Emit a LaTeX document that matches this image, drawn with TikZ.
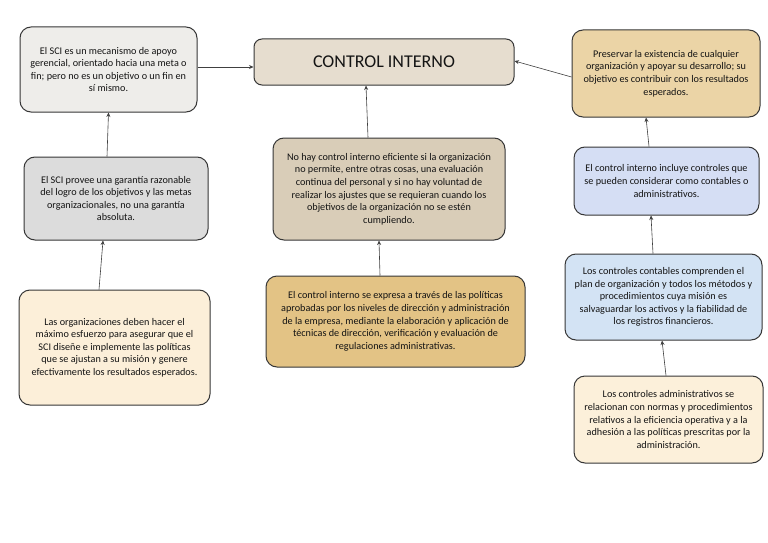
\documentclass[tikz,border=0pt]{standalone}
\usepackage{fontspec}
\setmainfont{Carlito}
\usetikzlibrary{arrows.meta}
\definecolor{cA}{HTML}{EEEDEA}
\definecolor{cB}{HTML}{DCDCDC}
\definecolor{cC}{HTML}{FCEFD9}
\definecolor{cCI}{HTML}{E6DDCF}
\definecolor{cD}{HTML}{D9CDB8}
\definecolor{cE}{HTML}{E3C385}
\definecolor{cF}{HTML}{EBD4A6}
\definecolor{cG}{HTML}{D5DEF4}
\definecolor{cH}{HTML}{D3E3F4}
\definecolor{cI}{HTML}{FCF0DA}
\definecolor{bord}{HTML}{363636}
\definecolor{txt}{HTML}{141414}
\tikzset{
  card/.style={draw=bord, line width=1pt, rounded corners=11pt, align=center,
    inner sep=0pt, text=txt, font=\fontsize{10.2}{12.6}\selectfont},
  arr/.style={draw=black!75, line width=0.6pt, -{Stealth[length=4.5pt,width=4pt]}}
}
\begin{document}
\begin{tikzpicture}[x=1pt,y=-1pt]
\useasboundingbox[fill=white] (0,0) rectangle (768,543);
\node[card, fill=cA, minimum width=177pt, minimum height=85pt] (A) at (108.5,69.5)
  {El SCI es un mecanismo de apoyo\\gerencial, orientado hacia una meta o\\fin; pero no es un objetivo o un fin en\\sí mismo.};
\node[card, fill=cB, minimum width=184pt, minimum height=83pt] (B) at (116,198.5)
  {El SCI provee una garantía razonable\\del logro de los objetivos y las metas\\organizacionales, no una garantía\\absoluta.};
\node[card, fill=cC, minimum width=191pt, minimum height=115pt] (C) at (114.5,347.5)
  {Las organizaciones deben hacer el\\máximo esfuerzo para asegurar que el\\SCI diseñe e implemente las políticas\\que se ajustan a su misión y genere\\efectivamente los resultados esperados.};
\node[card, fill=cCI, rounded corners=8pt, minimum width=260pt, minimum height=46pt,
  font=\fontsize{18}{20}\selectfont] (CI) at (384,62) {CONTROL INTERNO};
\node[card, fill=cD, minimum width=232pt, minimum height=102pt] (D) at (389,189)
  {No hay control interno eficiente si la organización\\no permite, entre otras cosas, una evaluación\\continua del personal y si no hay voluntad de\\realizar los ajustes que se requieran cuando los\\objetivos de la organización no se estén\\cumpliendo.};
\node[card, fill=cE, minimum width=259pt, minimum height=91pt] (E) at (395.5,321.5)
  {El control interno se expresa a través de las políticas\\aprobadas por los niveles de dirección y administración\\de la empresa, mediante la elaboración y aplicación de\\técnicas de dirección, verificación y evaluación de\\regulaciones administrativas.};
\node[card, fill=cF, minimum width=188pt, minimum height=87pt] (F) at (666,73.5)
  {Preservar la existencia de cualquier\\organización y apoyar su desarrollo; su\\objetivo es contribuir con los resultados\\esperados.};
\node[card, fill=cG, minimum width=185pt, minimum height=68pt] (G) at (666.5,181)
  {El control interno incluye controles que\\se pueden considerar como contables o\\administrativos.};
\node[card, fill=cH, minimum width=197pt, minimum height=86pt] (H) at (663.5,297)
  {Los controles contables comprenden el\\plan de organización y todos los métodos y\\procedimientos cuya misión es\\salvaguardar los activos y la fiabilidad de\\los registros financieros.};
\node[card, fill=cI, minimum width=189pt, minimum height=87pt] (I) at (668.5,419.5)
  {Los controles administrativos se\\relacionan con normas y procedimientos\\relativos a la eficiencia operativa y a la\\adhesión a las políticas prescritas por la\\administración.};
% connectors
\draw[arr] ([xshift=-15.5pt]C.north) -- ([xshift=-13pt]B.south);
\draw[arr] ([xshift=-9pt]B.north) -- (A.south);
\draw[arr] ([yshift=2.5pt]A.east) -- ([yshift=-5pt]CI.west);
\draw[arr] ([xshift=-21pt]D.north) -- ([xshift=-18pt]CI.south);
\draw[arr] ([xshift=-15.5pt]E.north) -- ([xshift=-10pt]D.south);
\draw[arr] ([yshift=-3.5pt]F.west) -- ([yshift=1pt]CI.east);
\draw[arr] ([xshift=-17.5pt]G.north) -- ([xshift=-20pt]F.south);
\draw[arr] ([xshift=-10.5pt]H.north) -- ([xshift=-15.5pt]G.south);
\draw[arr] ([xshift=-2.5pt]I.north) -- ([xshift=-1.5pt]H.south);
\end{tikzpicture}
\end{document}
